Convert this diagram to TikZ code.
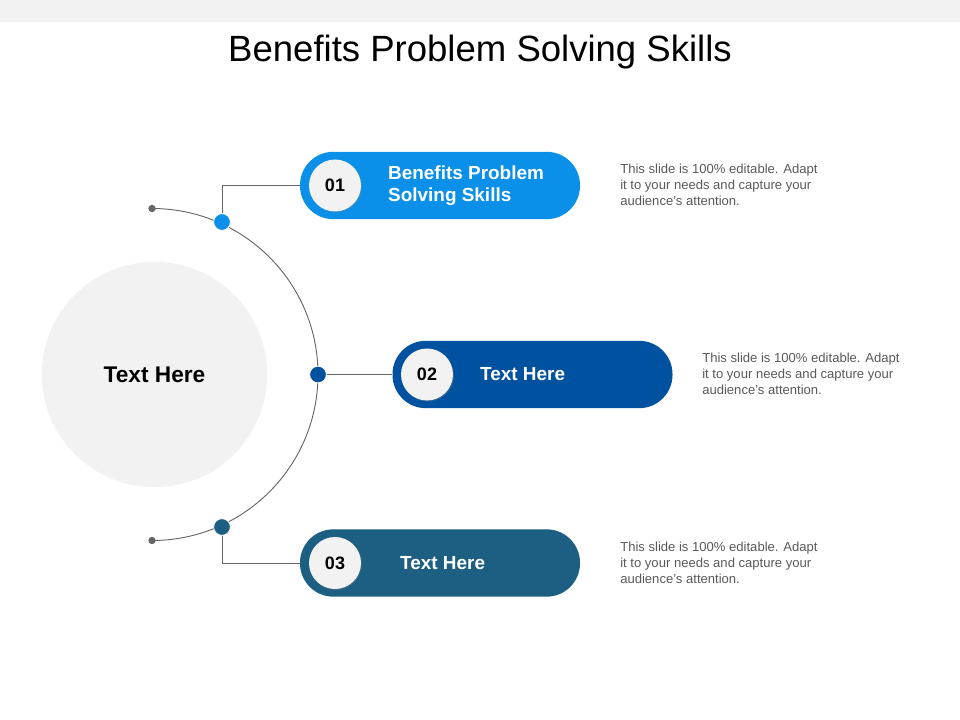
\documentclass[tikz,border=0pt]{standalone}
\usepackage{fontspec}
\setmainfont{Liberation Sans}
\usepackage{tikz}
\usetikzlibrary{positioning,shadows,calc}
\definecolor{bandgray}{HTML}{F2F2F2}
\definecolor{linegray}{HTML}{666666}
\definecolor{txtgray}{HTML}{595959}
\definecolor{blueA}{HTML}{0A90E8}
\definecolor{blueB}{HTML}{0052A0}
\definecolor{blueC}{HTML}{1D5F82}

\begin{document}
\begin{tikzpicture}[x=0.75pt,y=-0.75pt,
    pill/.style={rounded corners=25pt,minimum width=210pt,minimum height=50.5pt,inner sep=0pt},
    numbox/.style={circle,fill=bandgray,minimum size=39pt,inner sep=0pt,font=\bfseries\fontsize{13.5}{15}\selectfont,
      drop shadow={opacity=0.3,shadow xshift=0.8pt,shadow yshift=-0.8pt}},
    pilltext/.style={inner sep=0pt,anchor=west,align=left,text=white,font=\bfseries\fontsize{14.2}{17}\selectfont},
    desc/.style={inner sep=0pt,anchor=west,align=left,text=txtgray,font=\fontsize{9.8}{12}\selectfont},
    dotc/.style={circle,minimum size=12.5pt,inner sep=0pt,draw=white,line width=0.6pt},
    enddot/.style={circle,fill=linegray,minimum size=5.5pt,inner sep=0pt},
    conn/.style={draw=linegray,line width=0.7pt}]
  \useasboundingbox (0,0) rectangle (960,720);
  \fill [bandgray] (0,0) rectangle (960,22.5);
  \node (title) at (480,52) {\fontsize{27.4}{30}\selectfont Benefits Problem Solving Skills};

  \node [circle,fill=bandgray,minimum size=169pt,inner sep=0pt] (hub) at (154.5,374.5) {};
  \node [font=\bfseries\fontsize{17}{19}\selectfont] (hubtext) at (hub) {Text Here};

  \draw [conn] (152,208.5) arc [start angle=-90,end angle=90,radius=166];
  \node [enddot] (e1) at (152,208.5) {};
  \node [enddot] (e3) at (152,540.5) {};

  \node [pill,fill=blueA] (p1) at (440,185.5) {};
  \node [pill,fill=blueB] (p2) at (532.5,374.5) {};
  \node [pill,fill=blueC] (p3) at (440,563) {};

  \node [dotc,fill=blueA] (d1) at (222,222) {};
  \node [dotc,fill=blueB] (d2) at (318,374.5) {};
  \node [dotc,fill=blueC] (d3) at (222,527) {};

  \draw [conn] (d1) |- (p1.west);
  \draw [conn] (d2) -- (p2.west);
  \draw [conn] (d3) |- (p3.west);

  \node [numbox] (n1) at (335,185.5) {01};
  \node [numbox] (n2) at (427,374.5) {02};
  \node [numbox] (n3) at (335,563) {03};

  \node [pilltext,right=20pt of n1] (t1) {Benefits Problem\\Solving Skills};
  \node [pilltext,right=20pt of n2] (t2) {Text Here};
  \node [pilltext,right=29pt of n3] (t3) {Text Here};

  \node [desc] (s1) at (620,185) {This slide is 100\% editable. Adapt\\it to your needs and capture your\\audience's attention.};
  \node [desc] (s2) at (702,374) {This slide is 100\% editable. Adapt\\it to your needs and capture your\\audience's attention.};
  \node [desc] (s3) at (620,563) {This slide is 100\% editable. Adapt\\it to your needs and capture your\\audience's attention.};
\end{tikzpicture}
\end{document}
